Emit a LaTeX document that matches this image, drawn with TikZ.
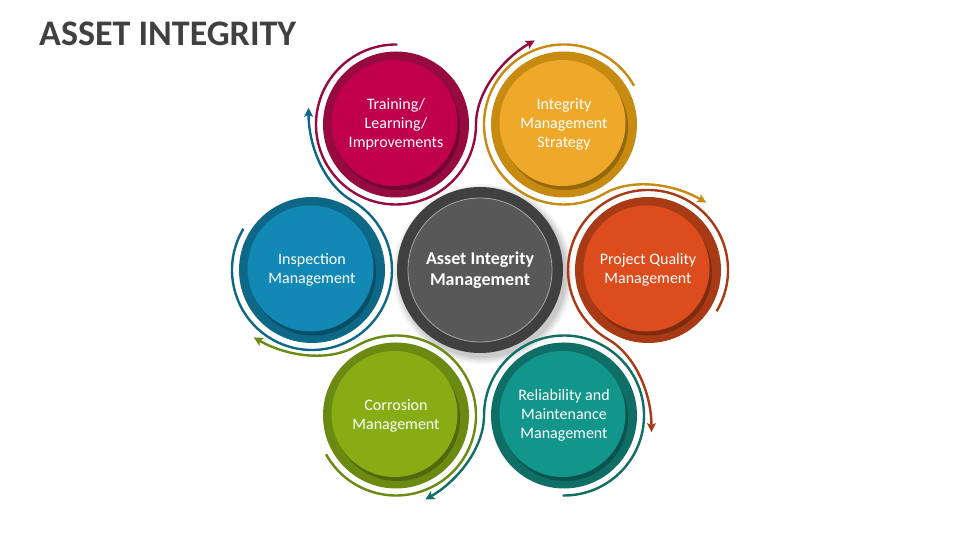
\documentclass[tikz,border=0pt]{standalone}
\usepackage{fontspec}
\setmainfont{Carlito}
\usetikzlibrary{calc,arrows.meta}
\definecolor{titleC}{HTML}{404040}
\definecolor{crimR}{HTML}{960A40}
\definecolor{crimF}{HTML}{C0004C}
\definecolor{goldR}{HTML}{C78B12}
\definecolor{goldF}{HTML}{EEA92A}
\definecolor{orgR}{HTML}{A83A16}
\definecolor{orgF}{HTML}{DC4C1C}
\definecolor{tealR}{HTML}{0F6E66}
\definecolor{tealF}{HTML}{12958A}
\definecolor{grnR}{HTML}{6A8A12}
\definecolor{grnF}{HTML}{88AC14}
\definecolor{bluR}{HTML}{0D6888}
\definecolor{bluF}{HTML}{1289B5}
\definecolor{cenR}{HTML}{404040}
\definecolor{cenF}{HTML}{585858}
\definecolor{cenL}{HTML}{A6A6A6}
\tikzset{
  bub/.style 2 args={circle, minimum size=146pt, inner sep=0pt, fill=#1,
    text=white, align=center, font=\fontsize{16}{19}\selectfont,
    path picture={
      \fill[#1!75!black] ([shift={(1pt,-2.5pt)}]path picture bounding box.center) circle[radius=63pt];
      \fill[#2] ([shift={(-1.5pt,1.5pt)}]path picture bounding box.center) circle[radius=63pt];
    }},
  flow/.style={line width=2.4pt, -{Stealth[length=9pt,width=9pt,inset=2pt]}},
}
\begin{document}
\begin{tikzpicture}[x=1pt,y=1pt]
\useasboundingbox (0,0) rectangle (960,540);
\fill[white] (0,0) rectangle (960,540);
\node[anchor=base west, text=titleC, font=\fontsize{36}{40}\selectfont\bfseries, inner sep=0pt] (title) at (39,494) {ASSET INTEGRITY};
\coordinate (c) at (480,270);
% shadow of center
\foreach \r/\o in {90/0.04,88/0.05,86/0.06,84/0.07}{
  \fill[black, opacity=\o] ($(c)+(3pt,-4pt)$) circle[radius=\r pt];
}
\node[circle, minimum size=166pt, inner sep=0pt, fill=cenR, text=white, align=center,
  font=\fontsize{18}{21}\selectfont\bfseries,
  path picture={\filldraw[fill=cenF, draw=cenL, line width=0.8pt] (path picture bounding box.center) circle[radius=72pt];}]
  (ai) at (c) {Asset Integrity\\Management};
\node[bub={crimR}{crimF}] (tr) at ($(c)+(120:168pt)$) {Training/\\Learning/\\Improvements};
\node[bub={goldR}{goldF}] (im) at ($(c)+(60:168pt)$) {Integrity\\Management\\Strategy};
\node[bub={orgR}{orgF}] (pq) at ($(c)+(0:168pt)$) {Project Quality\\Management};
\node[bub={tealR}{tealF}] (rm) at ($(c)+(-60:168pt)$) {Reliability and\\Maintenance\\Management};
\node[bub={grnR}{grnF}] (cm) at ($(c)+(-120:168pt)$) {Corrosion\\Management};
\node[bub={bluR}{bluF}] (insp) at ($(c)+(180:168pt)$) {Inspection\\Management};
\foreach \t/\n/\col in {120/tr/crimR, 60/im/goldR, 0/pq/orgR, -60/rm/tealR, -120/cm/grnR, 180/insp/bluR}{
  \coordinate (tail\n) at ($(\n)+(\t-31:80pt)$);
  \coordinate (tip\n) at ($(c)+(\t-43.4:236pt)$);
  \draw[flow, draw=\col] (tail\n) arc[start angle=\t-31, end angle=\t+240, radius=80pt]
     .. controls +(\t-30:32pt) and +(\t+90:38pt) .. (tip\n);
}
\end{tikzpicture}
\end{document}
